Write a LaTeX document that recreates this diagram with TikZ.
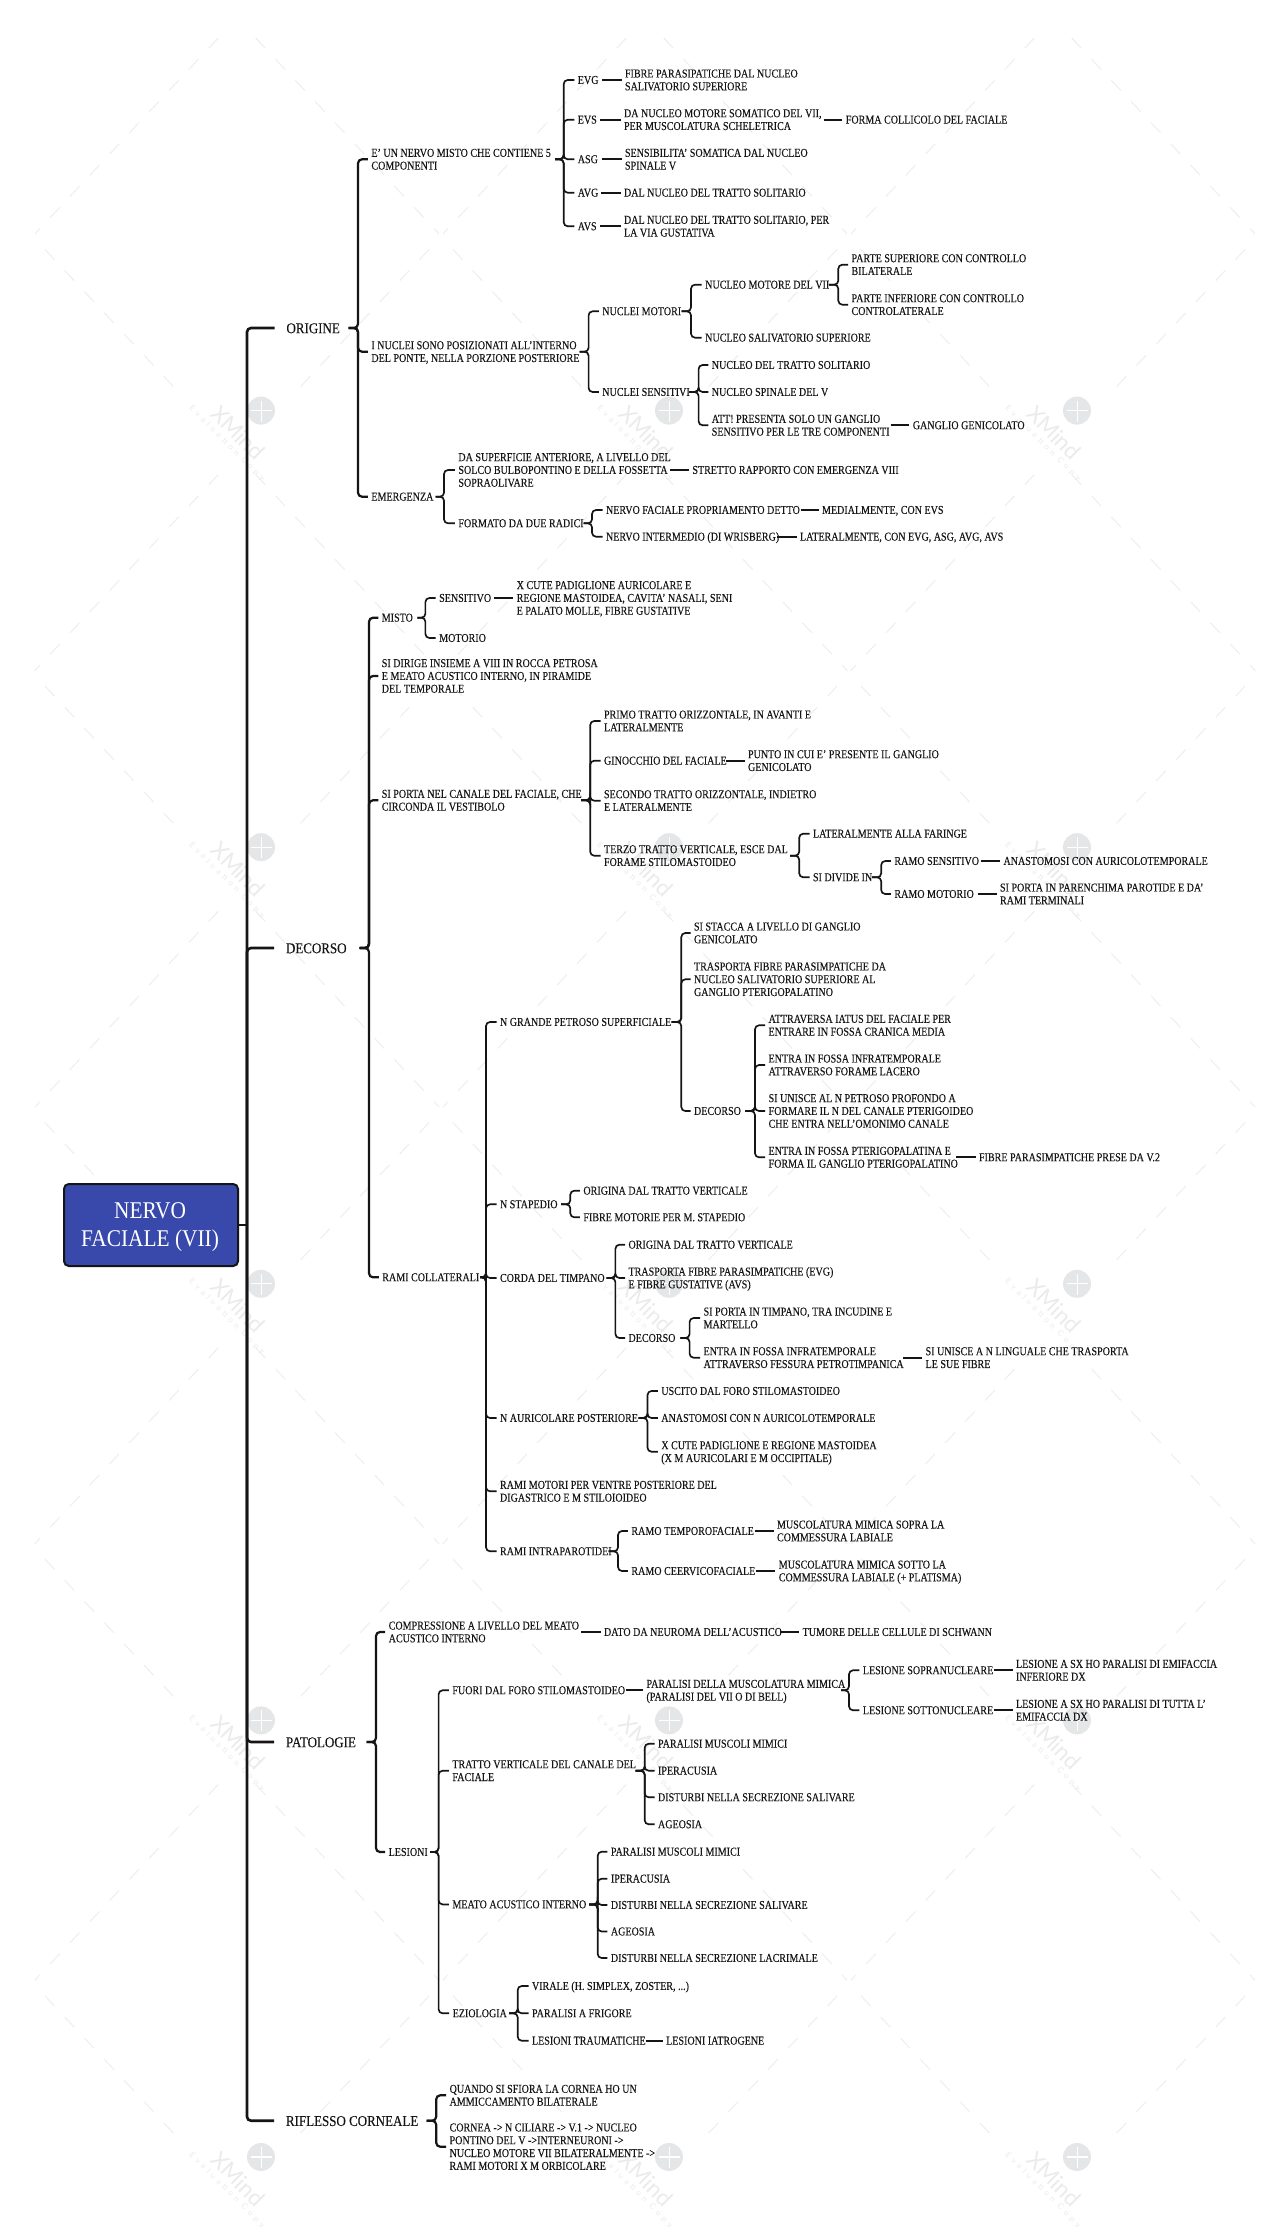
\documentclass[tikz,border=0pt]{standalone}
\usepackage{fontspec}
\setmainfont{Liberation Serif}[FakeStretch=0.838,FakeBold=0.12,Ligatures=TeX]
\newfontfamily\topicfont{Liberation Serif}[FakeStretch=0.865,FakeBold=0.12,Ligatures=TeX]
\newfontfamily\rootfont{Liberation Serif}[FakeStretch=0.89,Ligatures=TeX]
\newfontfamily\wmfont{Lato}
\newfontfamily\wmspaced{Lato}[LetterSpace=48]
\definecolor{ink}{HTML}{151515}
\definecolor{rootfill}{HTML}{3949AB}
\definecolor{wmline}{HTML}{EEEEEE}
\definecolor{wmtext}{HTML}{EBEBED}
\definecolor{wmdisc}{HTML}{E4E6E8}
\tikzset{
  txt/.style={anchor=west,inner sep=0pt,outer sep=0pt,text=ink,font=\fontsize{9}{9.6}\selectfont},
  topic/.style={anchor=west,inner sep=0pt,outer sep=0pt,text=ink,font=\topicfont\fontsize{11.25}{13}\selectfont},
  rootnode/.style={draw=ink,line width=1.5pt,fill=rootfill,rounded corners=3.6pt,text=white,inner sep=0pt,
    minimum width=130.5pt,minimum height=61.5pt,font=\rootfont\fontsize{18}{21}\selectfont},
  conn/.style={draw=ink,line width=1.25pt,rounded corners=3pt},
  connb/.style={draw=ink,line width=1.65pt,rounded corners=3pt},
  connr/.style={draw=ink,line width=1.95pt,rounded corners=3pt},
  wmdash/.style={draw=wmline,line width=0.75pt,dash pattern=on 10.5pt off 11.25pt}
}
% style, gap, name, text-left x, line-start x, y, text
\newcommand{\tnx}[7]{%
  \pgfmathsetmacro{\boxw}{(#5-#4+#2)*0.75}%
  \pgfmathsetmacro{\boxg}{#2*0.75}%
  \node[#1] (#3) at ({#4-#2},#6) {\makebox[\boxw pt][l]{\hspace{\boxg pt}\raisebox{-0.36em}[0pt][0pt]{\begin{tabular}{@{}l@{}}#7\end{tabular}}}};}
\newcommand{\tn}[5]{\tnx{txt}{3.5}{#1}{#2}{#3}{#4}{#5}}
\newcommand{\tl}[5]{\tnx{topic}{12}{#1}{#2}{#3}{#4}{#5}}
% style, parent, spine x, children
\newcommand{\fan}[4]{\foreach \kid in {#4}{\draw[#1] (#2.east) -- (#3,0 |- #2.east) -- (#3,0 |- \kid.west) -- (\kid.west);}}
\newcommand{\lnk}[2]{\draw[conn] (#1.east) -- (#2.west);}
\begin{document}
\begin{tikzpicture}[x=0.75pt,y=-0.75pt]
\useasboundingbox (0,0) rectangle (1280,2240);
\fill[white] (0,0) rectangle (1280,2240);
% --- evaluation watermark ---
\foreach \col in {237,645,1053}{
  \foreach \row in {18,454.6,891.2,1327.8,1764.4}{
    \draw[wmdash] ({\col-0.936*20},{\row+20}) -- ({\col-0.936*216},{\row+216});
    \draw[wmdash] ({\col+0.936*20},{\row+20}) -- ({\col+0.936*216},{\row+216});
  }
  \foreach \row in {454.6,891.2,1327.8,1764.4,2201}{
    \draw[wmdash] ({\col-0.936*68},{\row-68}) -- ({\col-0.936*216},{\row-216});
    \draw[wmdash] ({\col+0.936*68},{\row-68}) -- ({\col+0.936*216},{\row-216});
    \fill[wmdisc] ({\col+24},{\row-44}) circle (10.5pt);
    \draw[white,line width=0.8pt] ({\col+24.5},{\row-54}) -- ({\col+24.5},{\row-33});
    \draw[white,line width=0.8pt] ({\col+14},{\row-44}) -- ({\col+35},{\row-44});
    \node[rotate=-45,inner sep=0pt,text=wmtext,font=\wmfont\fontsize{16.8}{18}\selectfont] (wmx\col x\pgfmathresult) at ({\col+1},{\row-22}) {XMind};
    \node[rotate=-45,inner sep=0pt,text=wmtext,font=\wmspaced\fontsize{6}{7}\selectfont] (wme\col x\pgfmathresult) at ({\col-10},{\row-11}) {Evaluation Copy};
  }
}
% --- root ---
\node[rootnode] (root) at (151,1225) {\hspace*{-1.4pt}\raisebox{-5.55pt}[0pt][0pt]{\begin{tabular}{@{}c@{}}NERVO\\FACIALE (VII)\end{tabular}}};
% --- level 1 ---
\tl{ori}{286.5}{348.5}{328}{ORIGINE}
\tl{dec}{286}{359.5}{948}{DECORSO}
\tl{pat}{286}{366.7}{1742}{PATOLOGIE}
\tl{rif}{286}{426.7}{2120.7}{RIFLESSO CORNEALE}
% --- ORIGINE ---
\tn{a}{371.4}{555}{159.3}{E' UN NERVO MISTO CHE CONTIENE 5\\COMPONENTI}
\tn{b}{371.4}{579.6}{351.7}{I NUCLEI SONO POSIZIONATI ALL'INTERNO\\DEL PONTE, NELLA PORZIONE POSTERIORE}
\tn{c}{371.4}{435.5}{496.7}{EMERGENZA}
\tn{evg}{577.8}{602.3}{80}{EVG}
\tn{evs}{577.8}{600.4}{119.7}{EVS}
\tn{asg}{577.8}{602}{159.3}{ASG}
\tn{avg}{577.8}{601}{192.7}{AVG}
\tn{avs}{577.8}{600.4}{226.3}{AVS}
\tn{evga}{625}{700}{80}{FIBRE PARASIPATICHE DAL NUCLEO\\SALIVATORIO SUPERIORE}
\tn{evsa}{624}{823.6}{119.7}{DA NUCLEO MOTORE SOMATICO DEL VII,\\PER MUSCOLATURA SCHELETRICA}
\tn{evsb}{845.8}{1007}{119.7}{FORMA COLLICOLO DEL FACIALE}
\tn{asga}{625}{700}{159.3}{SENSIBILITA' SOMATICA DAL NUCLEO\\SPINALE V}
\tn{avga}{624}{700}{192.7}{DAL NUCLEO DEL TRATTO SOLITARIO}
\tn{avsa}{624}{700}{226.3}{DAL NUCLEO DEL TRATTO SOLITARIO, PER\\LA VIA GUSTATIVA}
\tn{nm}{602.3}{681.6}{311.3}{NUCLEI MOTORI}
\tn{ns}{602.3}{689}{392}{NUCLEI SENSITIVI}
\tn{nmv}{705.2}{828.8}{284.7}{NUCLEO MOTORE DEL VII}
\tn{nsal}{705.2}{860}{337.7}{NUCLEO SALIVATORIO SUPERIORE}
\tn{psup}{851.5}{1000}{264.7}{PARTE SUPERIORE CON CONTROLLO\\BILATERALE}
\tn{pinf}{851.5}{1000}{304.7}{PARTE INFERIORE CON CONTROLLO\\CONTROLATERALE}
\tn{nts}{711.8}{860}{365}{NUCLEO DEL TRATTO SOLITARIO}
\tn{nsv}{711.8}{820}{392}{NUCLEO SPINALE DEL V}
\tn{att}{711.8}{890.6}{425.3}{ATT! PRESENTA SOLO UN GANGLIO\\SENSITIVO PER LE TRE COMPONENTI}
\tn{gg}{912.8}{1030}{425.3}{GANGLIO GENICOLATO}
\tn{em}{458.4}{670}{470}{DA SUPERFICIE ANTERIORE, A LIVELLO DEL\\SOLCO BULBOPONTINO E DELLA FOSSETTA\\SOPRAOLIVARE}
\tn{emv}{692.4}{900}{470}{STRETTO RAPPORTO CON EMERGENZA VIII}
\tn{fdr}{458.4}{583.7}{523.3}{FORMATO DA DUE RADICI}
\tn{nfp}{606}{800.5}{510}{NERVO FACIALE PROPRIAMENTO DETTO}
\tn{med}{822}{950}{510}{MEDIALMENTE, CON EVS}
\tn{nin}{606}{777.4}{536.7}{NERVO INTERMEDIO (DI WRISBERG)}
\tn{lat}{800}{1000}{536.7}{LATERALMENTE, CON EVG, ASG, AVG, AVS}
% --- DECORSO ---
\tn{misto}{381.8}{417.4}{617.7}{MISTO}
\tn{dir}{381.8}{600}{676}{SI DIRIGE INSIEME A VIII IN ROCCA PETROSA\\E MEATO ACUSTICO INTERNO, IN PIRAMIDE\\DEL TEMPORALE}
\tn{spc}{381.8}{581}{800.3}{SI PORTA NEL CANALE DEL FACIALE, CHE\\CIRCONDA IL VESTIBOLO}
\tn{rc}{382.3}{480}{1277.3}{RAMI COLLATERALI}
\tn{sens}{439.2}{493.8}{598}{SENSITIVO}
\tn{sensa}{516.7}{730}{598}{X CUTE PADIGLIONE AURICOLARE E\\REGIONE MASTOIDEA, CAVITA' NASALI, SENI\\E PALATO MOLLE, FIBRE GUSTATIVE}
\tn{mot}{439.2}{490}{638}{MOTORIO}
\tn{pto}{604}{780}{721}{PRIMO TRATTO ORIZZONTALE, IN AVANTI E\\LATERALMENTE}
\tn{gin}{604}{726.2}{760.7}{GINOCCHIO DEL FACIALE}
\tn{gina}{748}{940}{760.7}{PUNTO IN CUI E' PRESENTE IL GANGLIO\\GENICOLATO}
\tn{sto}{604}{790}{800.7}{SECONDO TRATTO ORIZZONTALE, INDIETRO\\E LATERALMENTE}
\tn{ttv}{604}{790}{855.7}{TERZO TRATTO VERTICALE, ESCE DAL\\FORAME STILOMASTOIDEO}
\tn{laf}{813}{970}{833.7}{LATERALMENTE ALLA FARINGE}
\tn{sdi}{813}{872}{877.3}{SI DIVIDE IN}
\tn{rse}{894.4}{981}{861}{RAMO SENSITIVO}
\tn{rsea}{1003.5}{1210}{861}{ANASTOMOSI CON AURICOLOTEMPORALE}
\tn{rmo}{894.4}{977.7}{894}{RAMO MOTORIO}
\tn{rmoa}{1000}{1210}{894}{SI PORTA IN PARENCHIMA PAROTIDE E DA'\\RAMI TERMINALI}
\tn{ngp}{500}{671.6}{1022}{N GRANDE PETROSO SUPERFICIALE}
\tn{nst}{500}{561}{1204.3}{N STAPEDIO}
\tn{cdt}{500}{606.7}{1278}{CORDA DEL TIMPANO}
\tn{nap}{500}{638.6}{1418}{N AURICOLARE POSTERIORE}
\tn{rmv}{500}{700}{1491.3}{RAMI MOTORI PER VENTRE POSTERIORE DEL\\DIGASTRICO E M STILOIOIDEO}
\tn{rip}{500}{608.7}{1551.3}{RAMI INTRAPAROTIDEI}
\tn{ngpa}{694}{850}{933}{SI STACCA A LIVELLO DI GANGLIO\\GENICOLATO}
\tn{ngpb}{694}{880}{979.3}{TRASPORTA FIBRE PARASIMPATICHE DA\\NUCLEO SALIVATORIO SUPERIORE AL\\GANGLIO PTERIGOPALATINO}
\tn{ngpd}{694}{745.3}{1111}{DECORSO}
\tn{dea}{768.6}{950}{1025.3}{ATTRAVERSA IATUS DEL FACIALE PER\\ENTRARE IN FOSSA CRANICA MEDIA}
\tn{deb}{768.6}{950}{1065}{ENTRA IN FOSSA INFRATEMPORALE\\ATTRAVERSO FORAME LACERO}
\tn{dec2}{768.6}{950}{1111}{SI UNISCE AL N PETROSO PROFONDO A\\FORMARE IL N DEL CANALE PTERIGOIDEO\\CHE ENTRA NELL'OMONIMO CANALE}
\tn{ded}{768.6}{956.2}{1157.3}{ENTRA IN FOSSA PTERIGOPALATINA E\\FORMA IL GANGLIO PTERIGOPALATINO}
\tn{dee}{979}{1170}{1157.3}{FIBRE PARASIMPATICHE PRESE DA V.2}
\tn{nsta}{583.4}{760}{1190.7}{ORIGINA DAL TRATTO VERTICALE}
\tn{nstb}{583.4}{760}{1217.3}{FIBRE MOTORIE PER M. STAPEDIO}
\tn{cdta}{628.5}{800}{1244.7}{ORIGINA DAL TRATTO VERTICALE}
\tn{cdtb}{628.5}{830}{1278}{TRASPORTA FIBRE PARASIMPATICHE (EVG)\\E FIBRE GUSTATIVE (AVS)}
\tn{cdtd}{628.5}{680.4}{1338}{DECORSO}
\tn{cda}{703.6}{900}{1318}{SI PORTA IN TIMPANO, TRA INCUDINE E\\MARTELLO}
\tn{cdb}{703.6}{903}{1357.7}{ENTRA IN FOSSA INFRATEMPORALE\\ATTRAVERSO FESSURA PETROTIMPANICA}
\tn{cdc}{925.6}{1140}{1357.7}{SI UNISCE A N LINGUALE CHE TRASPORTA\\LE SUE FIBRE}
\tn{napa}{661.3}{850}{1391}{USCITO DAL FORO STILOMASTOIDEO}
\tn{napb}{661.3}{880}{1418}{ANASTOMOSI CON N AURICOLOTEMPORALE}
\tn{napc}{661.3}{880}{1451.7}{X CUTE PADIGLIONE E REGIONE MASTOIDEA\\(X M AURICOLARI E M OCCIPITALE)}
\tn{rtf}{631.4}{754.6}{1531}{RAMO TEMPOROFACIALE}
\tn{rtfa}{777}{950}{1531}{MUSCOLATURA MIMICA SOPRA LA\\COMMESSURA LABIALE}
\tn{rcf}{631.4}{755.5}{1571}{RAMO CEERVICOFACIALE}
\tn{rcfa}{778.8}{960}{1571}{MUSCOLATURA MIMICA SOTTO LA\\COMMESSURA LABIALE (+ PLATISMA)}
% --- PATOLOGIE ---
\tn{comp}{388.7}{581}{1632}{COMPRESSIONE A LIVELLO DEL MEATO\\ACUSTICO INTERNO}
\tn{dat}{604}{780}{1632}{DATO DA NEUROMA DELL'ACUSTICO}
\tn{tum}{802.6}{1000}{1632}{TUMORE DELLE CELLULE DI SCHWANN}
\tn{les}{388.7}{430}{1852}{LESIONI}
\tn{fuo}{452.4}{625.8}{1690.3}{FUORI DAL FORO STILOMASTOIDEO}
\tn{par}{646.5}{841}{1690.3}{PARALISI DELLA MUSCOLATURA MIMICA\\(PARALISI DEL VII O DI BELL)}
\tn{lso}{862.9}{993.8}{1670.3}{LESIONE SOPRANUCLEARE}
\tn{lsoa}{1016}{1220}{1670.3}{LESIONE A SX HO PARALISI DI EMIFACCIA\\INFERIORE DX}
\tn{lst}{862.9}{993.8}{1710.3}{LESIONE SOTTONUCLEARE}
\tn{lsta}{1016}{1210}{1710.3}{LESIONE A SX HO PARALISI DI TUTTA L'\\EMIFACCIA DX}
\tn{tvc}{452.4}{635.5}{1770.7}{TRATTO VERTICALE DEL CANALE DEL\\FACIALE}
\tn{tva}{658}{790}{1743.7}{PARALISI MUSCOLI MIMICI}
\tn{tvb}{658}{720}{1770.7}{IPERACUSIA}
\tn{tvd}{658}{855}{1797.3}{DISTURBI NELLA SECREZIONE SALIVARE}
\tn{tve}{658}{700}{1824.3}{AGEOSIA}
\tn{mai}{452.4}{589}{1904.4}{MEATO ACUSTICO INTERNO}
\tn{maa}{610.9}{740}{1851.7}{PARALISI MUSCOLI MIMICI}
\tn{mab}{610.9}{670}{1878.7}{IPERACUSIA}
\tn{mad}{610.9}{810}{1905}{DISTURBI NELLA SECREZIONE SALIVARE}
\tn{mae}{610.9}{660}{1931.5}{AGEOSIA}
\tn{maf}{610.9}{820}{1958}{DISTURBI NELLA SECREZIONE LACRIMALE}
\tn{ezi}{452.7}{509}{2013.3}{EZIOLOGIA}
\tn{vir}{532}{690}{1986}{VIRALE (H. SIMPLEX, ZOSTER, ...)}
\tn{pfr}{532}{630}{2013.3}{PARALISI A FRIGORE}
\tn{ltr}{532}{645.6}{2040.7}{LESIONI TRAUMATICHE}
\tn{lia}{666.2}{770}{2040.7}{LESIONI IATROGENE}
% --- RIFLESSO ---
\tn{rfa}{449.6}{640}{2095.3}{QUANDO SI SFIORA LA CORNEA HO UN\\AMMICCAMENTO BILATERALE}
\tn{rfb}{449.6}{660}{2146.7}{CORNEA -> N CILIARE -> V.1 -> NUCLEO\\PONTINO DEL V ->INTERNEURONI ->\\NUCLEO MOTORE VII BILATERALMENTE ->\\RAMI MOTORI X M ORBICOLARE}
% --- connectors ---
\draw[conn] (root.east) -- (247,0 |- root.east);
\foreach \kid in {ori,dec,pat,rif}{\draw[connr] (247,0 |- root.east) -- (247,0 |- \kid.west) -- (\kid.west);}
\fan{connb}{ori}{358}{a,b,c}
\fan{connb}{dec}{369}{misto,dir,spc,rc}
\fan{connb}{pat}{376}{comp,les}
\fan{connb}{rif}{436.2}{rfa,rfb}
\fan{conn}{a}{563.7}{evg,evs,asg,avg,avs}
\fan{conn}{b}{588.6}{nm,ns}
\fan{conn}{c}{444}{em,fdr}
\lnk{evg}{evga}\lnk{evs}{evsa}\lnk{evsa}{evsb}\lnk{asg}{asga}\lnk{avg}{avga}\lnk{avs}{avsa}
\fan{conn}{nm}{691}{nmv,nsal}
\fan{conn}{nmv}{838.3}{psup,pinf}
\fan{conn}{ns}{698.6}{nts,nsv,att}
\lnk{att}{gg}\lnk{em}{emv}
\fan{conn}{fdr}{592}{nfp,nin}
\lnk{nfp}{med}\lnk{nin}{lat}
\fan{conn}{misto}{425.4}{sens,mot}
\lnk{sens}{sensa}
\fan{conn}{spc}{590.2}{pto,gin,sto,ttv}
\lnk{gin}{gina}
\fan{conn}{ttv}{799.2}{laf,sdi}
\fan{conn}{sdi}{881.2}{rse,rmo}
\lnk{rse}{rsea}\lnk{rmo}{rmoa}
\fan{conn}{rc}{486}{ngp,nst,cdt,nap,rmv,rip}
\fan{conn}{ngp}{681.3}{ngpa,ngpb,ngpd}
\fan{conn}{ngpd}{755}{dea,deb,dec2,ded}
\lnk{ded}{dee}
\fan{conn}{nst}{570.3}{nsta,nstb}
\fan{conn}{cdt}{615.4}{cdta,cdtb,cdtd}
\fan{conn}{cdtd}{689.6}{cda,cdb}
\lnk{cdb}{cdc}
\fan{conn}{nap}{647.5}{napa,napb,napc}
\fan{conn}{rip}{618}{rtf,rcf}
\lnk{rtf}{rtfa}\lnk{rcf}{rcfa}
\lnk{comp}{dat}\lnk{dat}{tum}
\fan{conn}{les}{438.6}{fuo,tvc,mai,ezi}
\lnk{fuo}{par}
\fan{conn}{par}{849}{lso,lst}
\lnk{lso}{lsoa}\lnk{lst}{lsta}
\fan{conn}{tvc}{644.7}{tva,tvb,tvd,tve}
\fan{conn}{mai}{597.7}{maa,mab,mad,mae,maf}
\fan{conn}{ezi}{517.7}{vir,pfr,ltr}
\lnk{ltr}{lia}
\end{tikzpicture}
\end{document}
